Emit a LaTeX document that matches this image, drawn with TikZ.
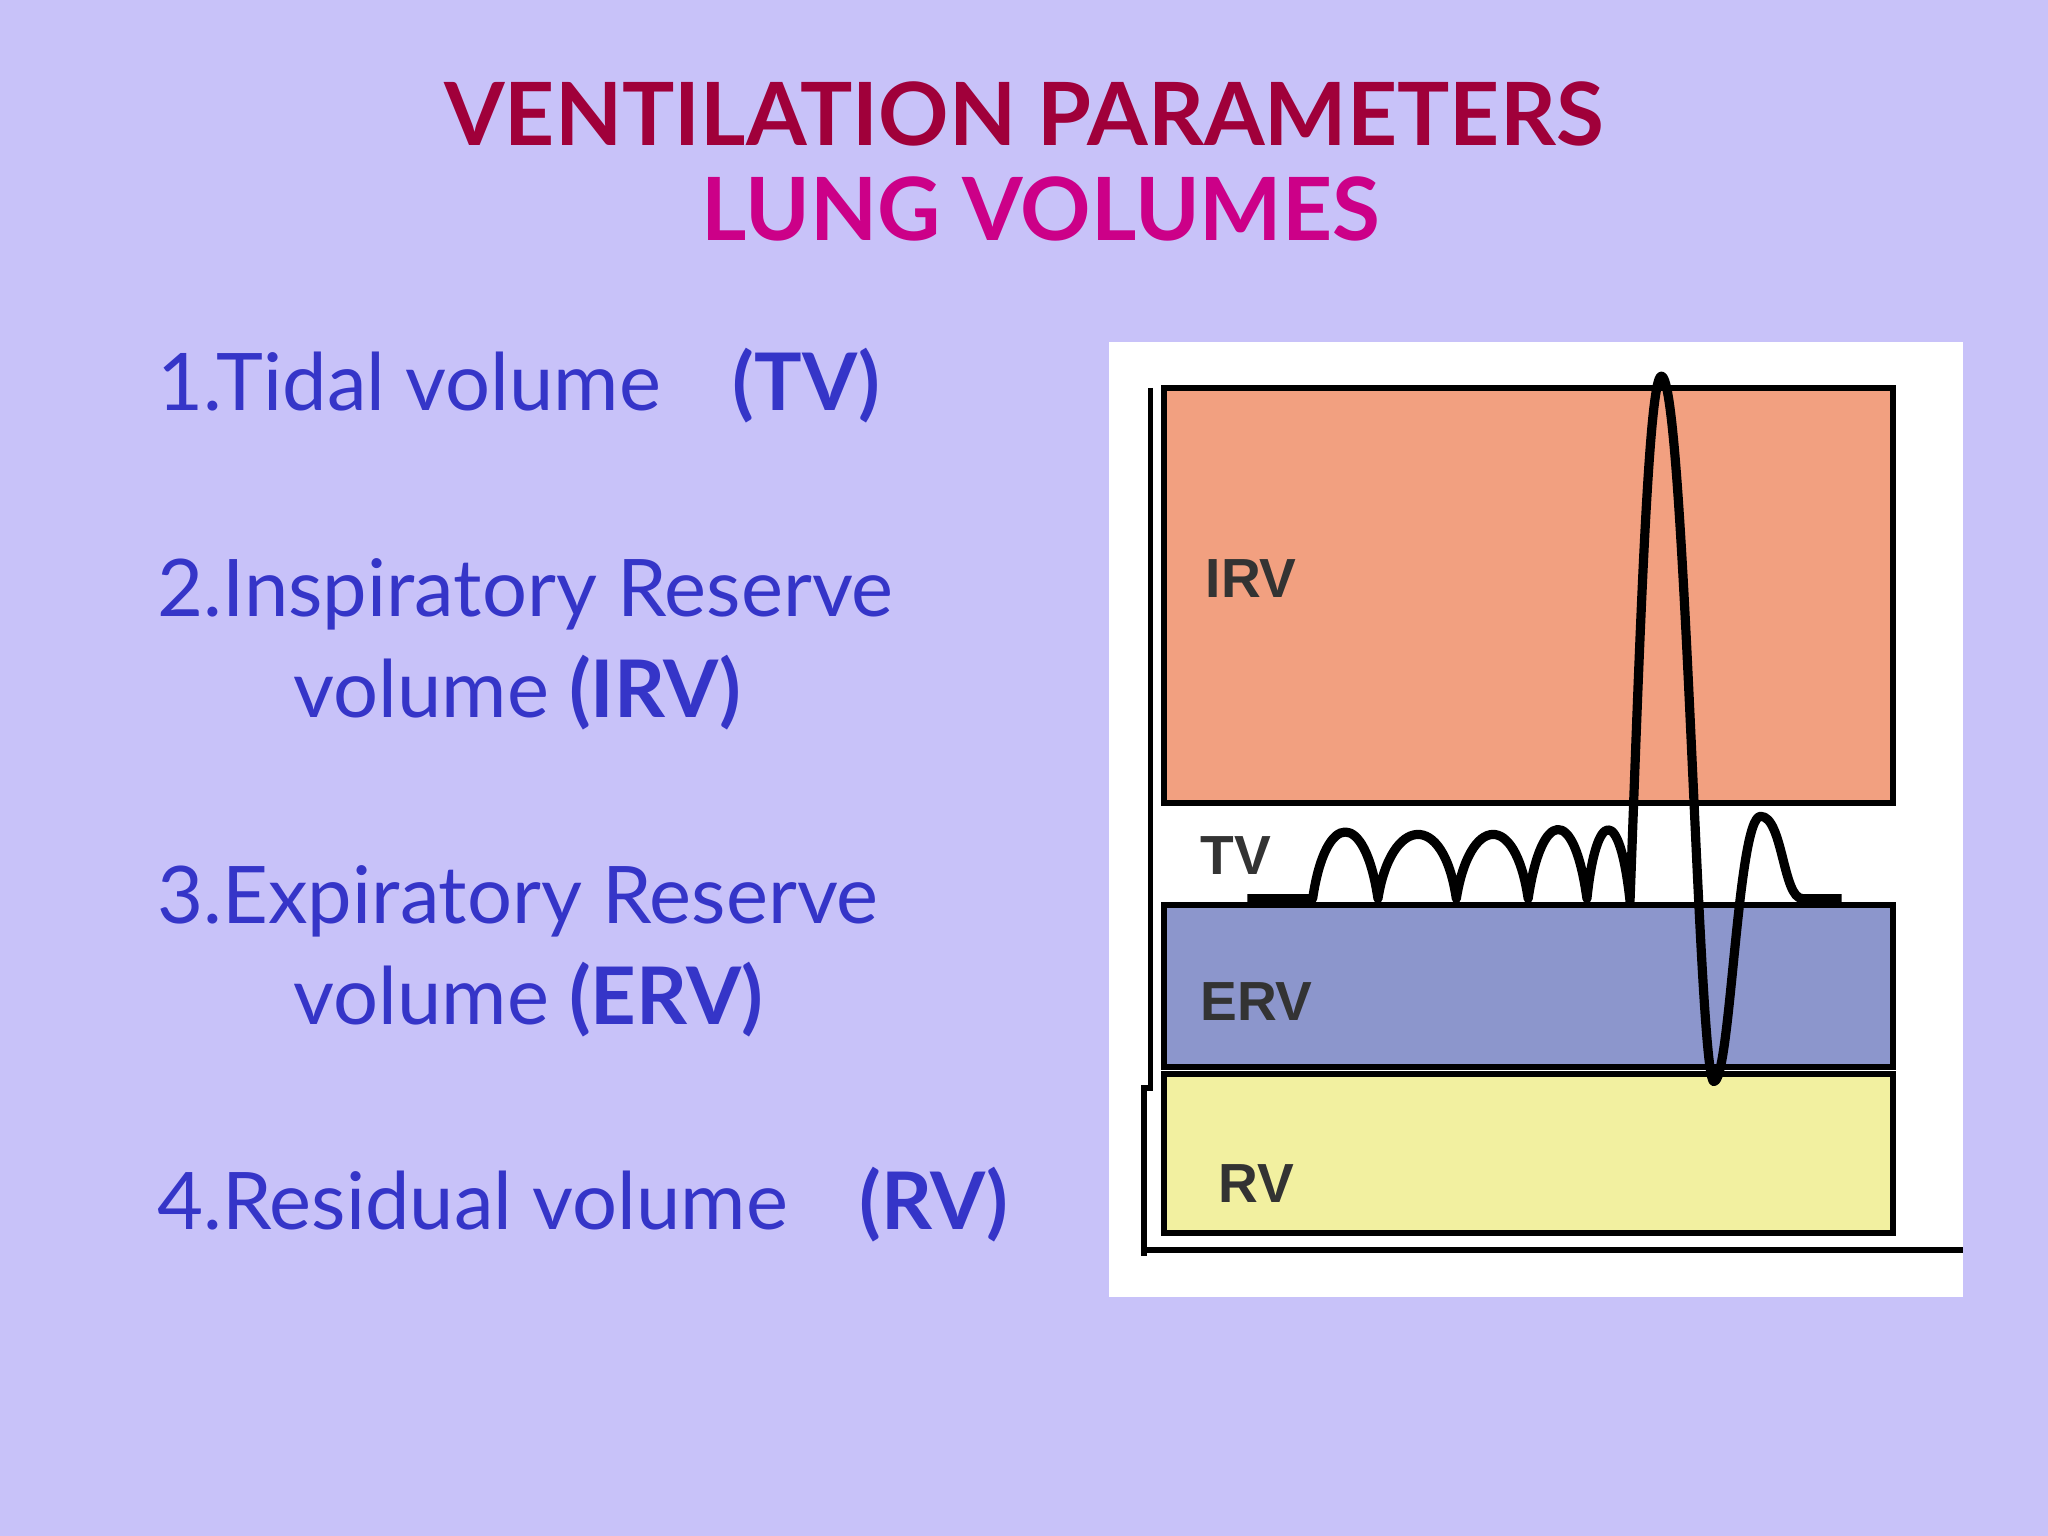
\documentclass[tikz,border=0pt]{standalone}
\usepackage{fontspec}
\setmainfont{Lato}
\newfontfamily\lab{Liberation Sans}
\begin{document}
\begin{tikzpicture}[x=0.01cm,y=-0.01cm,
 body/.style={font=\fontsize{17.3}{20}\selectfont, anchor=west, inner sep=0pt},
 vol/.style={draw=black, line width=1.3pt},
 lbl/.style={font=\lab\bfseries\fontsize{12}{14}\selectfont, text=black!80}]
\fill[blue!20!white!95!violet] (0,0) rectangle (1568,1176);
\useasboundingbox (0,0) rectangle (1568,1176);
\definecolor{tblue}{HTML}{3535C8}
\node[font=\bfseries\fontsize{19}{22}\selectfont, text={rgb,255:red,160;green,0;blue,58}] (t1) at (784,87) {VENTILATION PARAMETERS};
\node[font=\bfseries\fontsize{19}{22}\selectfont, text={rgb,255:red,204;green,0;blue,136}] (t2) at (797,160) {LUNG VOLUMES};
\node[body,text=tblue] (l1) at (120,295) {1.Tidal volume\hspace{0.9em}\textbf{(TV)}};
\node[body,text=tblue] (l2) at (120,455) {2.Inspiratory Reserve};
\node[body,text=tblue] (l2b) at (224,530) {volume \textbf{(IRV)}};
\node[body,text=tblue] (l3) at (120,690) {3.Expiratory Reserve};
\node[body,text=tblue] (l3b) at (224,765) {volume \textbf{(ERV)}};
\node[body,text=tblue] (l4) at (120,922) {4.Residual volume\hspace{0.9em}\textbf{(RV)}};
\fill[white] (849,262) rectangle (1503,993);
\draw[vol,fill={rgb,255:red,242;green,160;blue,128}] (891,297) rectangle (1449,615);
\draw[vol,fill={rgb,255:red,140;green,150;blue,204}] (891,693) rectangle (1449,817);
\draw[vol,fill={rgb,255:red,242;green,240;blue,160}] (891,822) rectangle (1449,944);
\draw[line width=1.2pt] (881,297) -- (881,833) -- (876,833) -- (876,962);
\draw[line width=1.5pt] (876,957) -- (1503,957);
\draw[line width=2pt, line join=round] (955,688) -- (1005,688)
  .. controls (1015,620) and (1045,620) .. (1055,688)
  .. controls (1065,625) and (1105,620) .. (1115,688)
  .. controls (1125,625) and (1160,620) .. (1170,688)
  .. controls (1180,620) and (1205,615) .. (1215,688)
  .. controls (1222,620) and (1240,615) .. (1248,690)
  .. controls (1255,500) and (1262,288) .. (1272,288)
  .. controls (1290,288) and (1300,820) .. (1312,828)
  .. controls (1325,830) and (1330,625) .. (1348,625)
  .. controls (1365,625) and (1365,688) .. (1380,688) -- (1410,688);
\node[lbl] (irv) at (958,443) {IRV};
\node[lbl] (tv) at (946,655) {TV};
\node[lbl] (erv) at (962,767) {ERV};
\node[lbl] (rv) at (962,906) {RV};
\end{tikzpicture}
\end{document}
